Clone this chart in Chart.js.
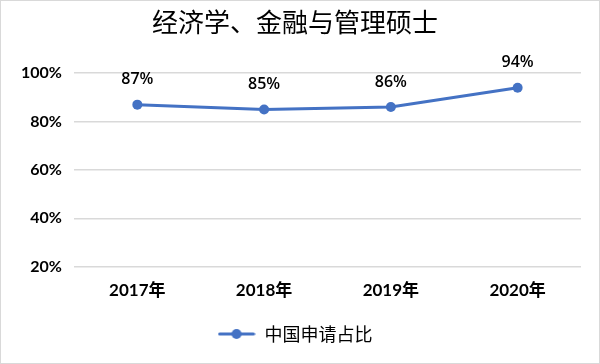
<!DOCTYPE html>
<html>
<head>
<meta charset="utf-8">
<script src="https://cdn.jsdelivr.net/npm/chart.js@4.4.1/dist/chart.umd.min.js"></script>
<style>
  html, body { margin: 0; padding: 0; background: #fff; }
  #wrap { width: 600px; height: 364px; box-sizing: border-box; border: 1px solid #d9d9d9; }
  canvas { display: block; }
</style>
</head>
<body>
<div id="wrap"><canvas id="chart" width="598" height="362"></canvas></div>
<script>
const chartTitle = '经济学、金融与管理硕士';
const years = ['2017年', '2018年', '2019年', '2020年'];
const chinaShare = [87, 85, 86, 94];
const seriesName = '中国申请占比';
const lineColor = '#4472C4';

const labelFont = '"Lato", "Noto Sans CJK SC", sans-serif';

// small line + dot icon for the legend
function legendIcon() {
  const c = document.createElement('canvas');
  c.width = 38;
  c.height = 12;
  const ctx = c.getContext('2d');
  ctx.strokeStyle = lineColor;
  ctx.lineWidth = 3;
  ctx.lineCap = 'round';
  ctx.beginPath();
  ctx.moveTo(2, 6);
  ctx.lineTo(36, 6);
  ctx.stroke();
  ctx.fillStyle = lineColor;
  ctx.beginPath();
  ctx.arc(19, 6, 5, 0, Math.PI * 2);
  ctx.fill();
  return c;
}

const valueLabels = {
  id: 'valueLabels',
  afterDatasetsDraw(chart) {
    const { ctx } = chart;
    const meta = chart.getDatasetMeta(0);
    ctx.save();
    ctx.fillStyle = '#000';
    ctx.font = '600 16px "Open Sans", sans-serif';
    ctx.textAlign = 'center';
    ctx.textBaseline = 'middle';
    meta.data.forEach(function (pt, i) {
      ctx.fillText(chinaShare[i] + '%', pt.x, pt.y - 25);
    });
    ctx.restore();
  }
};

const icon = legendIcon();

new Chart(document.getElementById('chart').getContext('2d'), {
  type: 'line',
  plugins: [valueLabels],
  data: {
    labels: years,
    datasets: [{
      label: seriesName,
      data: chinaShare,
      borderColor: lineColor,
      backgroundColor: lineColor,
      borderWidth: 3,
      pointRadius: 5,
      pointBackgroundColor: lineColor,
      pointBorderWidth: 0,
      tension: 0
    }]
  },
  options: {
    responsive: false,
    animation: false,
    layout: { padding: { left: 8, right: 18, top: 0, bottom: 10 } },
    plugins: {
      title: {
        display: true,
        text: chartTitle,
        color: '#000',
        font: { family: '"SimSun", "Noto Sans CJK SC", serif', size: 26, weight: 'normal' },
        padding: { top: 6, bottom: 35 }
      },
      legend: {
        position: 'bottom',
        labels: {
          usePointStyle: true,
          pointStyleWidth: 38,
          color: '#000',
          font: { family: '"Noto Sans CJK SC", sans-serif', size: 18 },
          padding: 18,
          generateLabels(chart) {
            return [{
              text: seriesName,
              pointStyle: icon,
              fillStyle: lineColor,
              strokeStyle: lineColor,
              lineWidth: 0,
              datasetIndex: 0,
              hidden: false
            }];
          }
        }
      },
      tooltip: { enabled: false }
    },
    scales: {
      x: {
        offset: true,
        grid: { display: false },
        border: { display: false },
        ticks: { color: '#000', padding: 6, font: { family: labelFont, size: 17, weight: 'bold' } }
      },
      y: {
        min: 20,
        max: 100,
        ticks: {
          stepSize: 20,
          color: '#000',
          padding: 12,
          font: { family: labelFont, size: 16, weight: 'bold' },
          callback(value) { return value + '%'; }
        },
        grid: { color: '#d9d9d9', lineWidth: 1.5, drawTicks: false },
        border: { display: false }
      }
    }
  }
});
</script>
</body>
</html>
